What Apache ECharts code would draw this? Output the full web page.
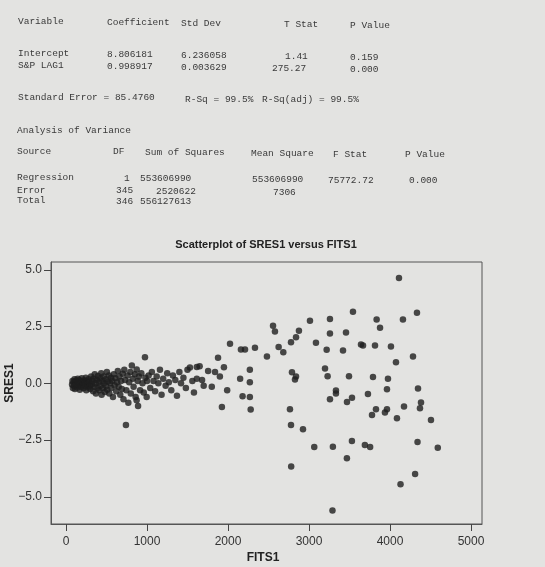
<!DOCTYPE html>
<html><head><meta charset="utf-8">
<script src="https://cdn.jsdelivr.net/npm/echarts@6/dist/echarts.min.js"></script>
<style>html,body{margin:0;padding:0;background:#e3e3e1}#c{width:545px;height:567px}</style>
</head><body><div id="c"></div>
<script>
// ---- text content ----
const coefHeader = ['Variable', 'Coefficient', 'Std Dev', 'T Stat', 'P Value'];
const coefRows = [
  ['Intercept', '8.806181', '6.236058', '1.41', '0.159'],
  ['S&P LAG1', '0.998917', '0.003629', '275.27', '0.000']
];
const fitStats = ['Standard Error = 85.4760', 'R-Sq = 99.5%', 'R-Sq(adj) = 99.5%'];
const anovaTitle = 'Analysis of Variance';
const anovaHeader = ['Source', 'DF', 'Sum of Squares', 'Mean Square', 'F Stat', 'P Value'];
const anovaRows = [
  ['Regression', '1', '553606990', '553606990', '75772.72', '0.000'],
  ['Error', '345', '2520622', '7306', '', ''],
  ['Total', '346', '556127613', '', '', '']
];
const chartTitle = 'Scatterplot of SRES1 versus FITS1';
const xName = 'FITS1';
const yName = 'SRES1';
const xTicks = [0, 1000, 2000, 3000, 4000, 5000];
const yTicks = [-5, -2.5, 0, 2.5, 5];

// ---- data: [FITS1, SRES1] ----
const clusterLow = [
  [75,-0.05],[80,0.1],[85,-0.2],[95,0.05],[100,-0.12],[105,0.18],[110,-0.25],[120,0.0],[125,0.12],[130,-0.08],
  [140,-0.18],[145,0.2],[150,0.05],[160,-0.1],[165,0.15],[170,-0.28],[180,0.02],[190,-0.15],[195,0.22],[200,0.08],
  [210,-0.05],[215,-0.22],[225,0.14],[230,0.0],[240,-0.12],[245,0.25],[250,-0.3],[260,0.1],[265,-0.02],[275,-0.18],
  [280,0.18],[290,0.05],[295,-0.1],[300,-0.25]
];
const clusterMid = [
  [310,0.3],[320,-0.05],[325,0.12],[335,-0.35],[340,0.2],[350,-0.15],[355,0.4],[365,0.0],[370,-0.45],[380,0.15],
  [390,-0.2],[395,0.32],[405,0.05],[410,-0.3],[420,0.22],[425,-0.1],[435,0.45],[440,-0.5],[450,0.1],[455,-0.22],
  [465,0.3],[470,0.0],[480,-0.38],[490,0.18],[495,-0.12],[505,0.5],[510,-0.28],[520,0.08],[530,0.35],[535,-0.45],
  [545,0.0],[555,0.25],[560,-0.2],[570,0.12],[580,-0.6],[590,0.4],[600,-0.08],[610,0.22],[620,-0.35],[630,0.05],
  [640,0.55],[650,-0.15],[660,0.3],[670,-0.5],[680,0.1],[690,-0.25],[700,0.42]
];
const clusterHigh = [
  [710,-0.7],[720,0.6],[730,0.15],[745,-0.3],[760,0.35],[770,-0.85],[780,0.05],[795,0.5],[800,-0.45],[813,0.79],
  [825,0.2],[835,-0.15],[850,0.4],[860,-0.6],[873,0.61],[872,-0.75],[885,0.1],[890,-1.0],[900,0.3],[915,-0.3],
  [930,0.45],[945,0.0],[960,-0.4],[975,1.15],[980,0.25],[996,-0.6],[1000,0.1],[740,-1.84]
];
const midRange = [
  [1020,0.35],[1040,-0.2],[1060,0.5],[1080,0.1],[1100,-0.35],[1120,0.3],[1140,0.0],[1160,0.6],[1180,-0.5],[1200,0.2],
  [1230,-0.1],[1250,0.45],[1270,0.05],[1300,-0.3],[1320,0.35],[1350,0.15],[1370,-0.55],[1400,0.5],[1420,0.0],[1450,0.25],
  [1480,-0.2],[1500,0.6],[1530,0.7],[1560,0.1],[1580,-0.4],[1615,0.72],[1615,0.2],[1650,0.75],[1680,0.15],[1700,-0.1],
  [1755,0.55],[1800,-0.15],[1840,0.5],[1877,1.13],[1900,0.3],[1950,0.71],[1925,-1.04],[1990,-0.3]
];
const upperRange = [
  [2025,1.75],[2160,1.49],[2210,1.49],[2333,1.57],[2481,1.18],[2556,2.54],[2580,2.29],[2625,1.6],[2683,1.37],
  [2150,0.2],[2270,0.05],[2270,0.6],[2180,-0.57],[2270,-0.6],[2280,-1.15],
  [4111,4.65],[3543,3.16],[4333,3.11],[3012,2.76],[3259,2.84],[3835,2.81],[4160,2.81],[3877,2.45],[2876,2.32],[2840,2.03],
  [2778,1.81],[3086,1.79],[3259,2.2],[3457,2.24],[3642,1.71],[3667,1.67],[3815,1.67],[4012,1.62],[3218,1.48],[3420,1.45],
  [4284,1.18],[4074,0.93],[3198,0.65],[2790,0.49],[2840,0.3],[2827,0.17],[3230,0.31],[3494,0.31],[3790,0.28],[3975,0.2],
  [3963,-0.26],[4346,-0.23],[3333,-0.31],[3333,-0.45],[3531,-0.63],[3259,-0.7],[3469,-0.82],[3728,-0.47],[2765,-1.14],[3827,-1.14],
  [3963,-1.14],[3938,-1.29],[3778,-1.4],[4173,-1.02],[4383,-0.84],[4370,-1.1],[4086,-1.54],[4506,-1.62],[2778,-1.84],[2926,-2.02],
  [3530,-2.54],[4340,-2.58],[3065,-2.81],[3295,-2.8],[3690,-2.72],[3755,-2.81],[4590,-2.84],[3468,-3.3],[2780,-3.66],[4310,-4.0],
  [4130,-4.45],[3290,-5.6]
];
const allPoints = [].concat(clusterLow, clusterMid, clusterHigh, midRange, upperRange);

// ---- layout ----
const MONO = '"Liberation Mono", "Courier New", monospace';
const SANS = '"Liberation Sans", Arial, sans-serif';
const TXT = '#3a3a3a';
const coefColX = [18, 107, 181, 284, 350];
const coefRowY = [21, 53, 65];
const coefDX = [[0, 0, 0, 0, 0], [0, 0, 0, 1, 0], [0, 0, 0, -12, 0]];
const statsX = [18, 185, 262];
const statsY = [97, 99, 99];
const anovaColX = [17, 113, 145, 251, 333, 405];
const anovaRowY = [151, 177, 190, 200.5];
const anovaDX = [[0,0,0,0,0,0],[0,11,-5,1,-5,4],[0,3,11,22,0,0],[0,3,-5,0,0,0]];
const tilt = 0.014;

function txt(s, x, y, opts) {
  return {
    type: 'text', x: x, y: y, silent: true,
    style: Object.assign({ text: s, fill: TXT, fontSize: 9.5, fontFamily: MONO, textAlign: 'left', textVerticalAlign: 'middle' }, opts || {})
  };
}
const graphics = [];
[coefHeader].concat(coefRows).forEach((row, r) => {
  row.forEach((cell, c) => {
    if (!cell) return;
    const x = coefColX[c] + coefDX[r][c];
    graphics.push(txt(cell, x, coefRowY[r] + (x - 18) * tilt));
  });
});
fitStats.forEach((s, i) => graphics.push(txt(s, statsX[i], statsY[i])));
graphics.push(txt(anovaTitle, 17, 130));
[anovaHeader].concat(anovaRows).forEach((row, r) => {
  row.forEach((cell, c) => {
    if (!cell) return;
    const x = anovaColX[c] + anovaDX[r][c];
    graphics.push(txt(cell, x, anovaRowY[r] + (x - 17) * tilt * 0.7));
  });
});
graphics.push(txt(chartTitle, 266, 245, { fontFamily: SANS, fontWeight: 'bold', fontSize: 11, fill: '#222', textAlign: 'center' }));
graphics.push(txt(xName, 263, 558, { fontFamily: SANS, fontWeight: 'bold', fontSize: 12, fill: '#222', textAlign: 'center' }));
graphics.push({ type: 'text', x: 10, y: 383, rotation: Math.PI / 2, silent: true,
  style: { text: yName, fill: '#222', fontSize: 12, fontWeight: 'bold', fontFamily: SANS, textAlign: 'center', textVerticalAlign: 'middle' } });

const chart = echarts.init(document.getElementById('c'), null, { renderer: 'canvas' });
chart.setOption({
  backgroundColor: '#e3e3e1',
  animation: false,
  grid: { left: 51, right: 63, top: 262, bottom: 43, show: true, borderColor: '#555', borderWidth: 1, backgroundColor: 'transparent' },
  xAxis: {
    type: 'value', min: -185, max: 5136,
    axisLine: { show: true, onZero: false, lineStyle: { color: '#555', width: 1 } },
    axisTick: { show: true, customValues: xTicks, length: 7, lineStyle: { color: '#444' } },
    axisLabel: { customValues: xTicks, fontSize: 12, color: '#333', fontFamily: SANS, margin: 12,
      formatter: v => String(Math.round(v)) },
    splitLine: { show: false }
  },
  yAxis: {
    type: 'value', min: -6.2, max: 5.35,
    axisLine: { show: true, onZero: false, lineStyle: { color: '#555', width: 1 } },
    axisTick: { show: true, customValues: yTicks, length: 7, lineStyle: { color: '#444' } },
    axisLabel: { customValues: yTicks, fontSize: 12, color: '#333', fontFamily: SANS, margin: 9,
      formatter: v => (v < 0 ? '\u2212' : '') + Math.abs(v).toFixed(1) },
    splitLine: { show: false }
  },
  series: [{
    type: 'scatter', data: allPoints, symbol: 'circle', symbolSize: 6.5,
    itemStyle: { color: '#1e1e1e' }, silent: true
  }],
  graphic: graphics
});
</script></body></html>
